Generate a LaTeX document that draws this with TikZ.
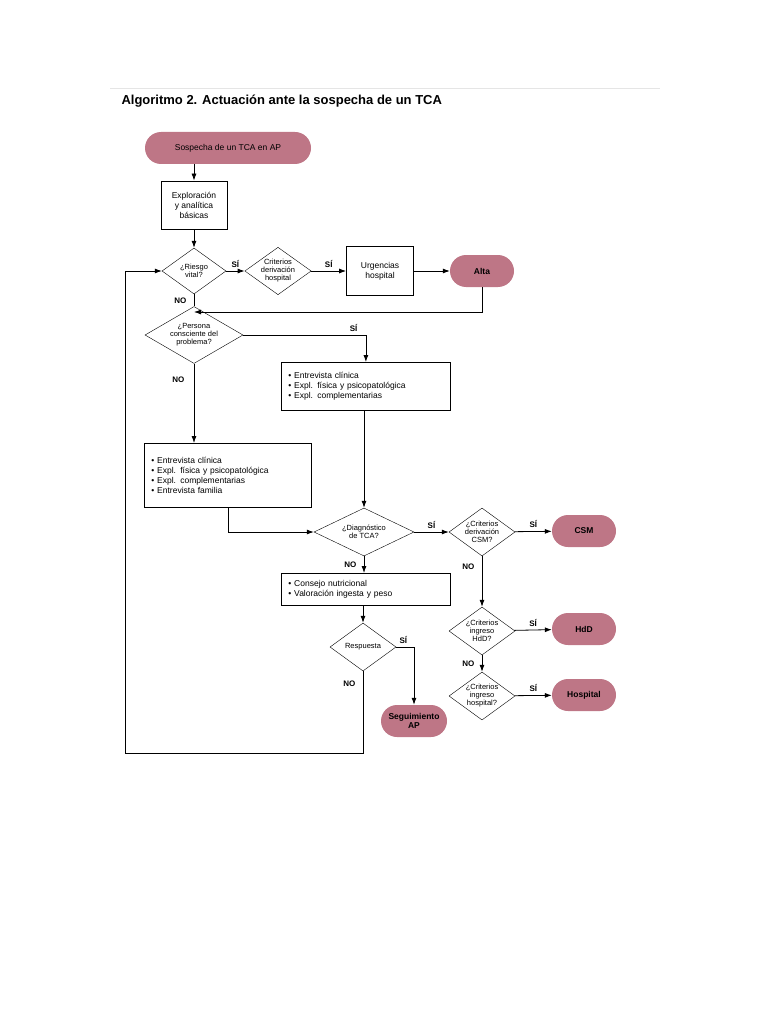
\documentclass[tikz,border=0pt]{standalone}
\usepackage{fontspec}
\setmainfont{Liberation Sans}
\usetikzlibrary{shapes.geometric,arrows.meta}
\definecolor{malva}{RGB}{190,118,134}
\tikzset{
  term/.style={rounded rectangle,fill=malva,minimum height=32pt,font=\fontsize{8.5}{9.5}\selectfont\bfseries,align=center,inner sep=1pt},
  caja/.style={draw,thick,font=\fontsize{8.5}{10}\selectfont,align=left},
  rombo/.style={draw,diamond,aspect=1.4,inner sep=0pt,font=\fontsize{7.5}{8}\selectfont,align=center},
  flecha/.style={thick,-{Latex[length=7pt,width=5pt]}},
  etq/.style={font=\fontsize{8}{9}\selectfont\bfseries}
}
\usetikzlibrary{shapes.misc}
\begin{document}
\begin{tikzpicture}[x=1pt,y=-1pt]
        \useasboundingbox (0,0) rectangle (768,1024);
        \draw[black!10,thick] (110,88) -- (660,88);
        \node[anchor=west,font=\fontsize{13}{15}\selectfont\bfseries] (T) at (118,101) {Algoritmo 2. Actuación ante la sospecha de un TCA};
        \node[term,minimum width=168pt,font=\fontsize{8.5}{9.5}\selectfont] (S) at (228,148) {Sospecha de un TCA en AP};
        \node[caja,minimum width=66pt,minimum height=48pt,align=center] (E) at (194,205) {Exploración\\y analítica\\básicas};
        \node[rombo,minimum width=64pt,minimum height=46pt] (R) at (194,271) {¿Riesgo\\vital?};
        \node[rombo,minimum width=64pt,minimum height=46pt] (CH) at (278,271) {Criterios\\derivación\\hospital};
        \node[caja,minimum width=67pt,minimum height=49pt,align=center] (U) at (380,271) {Urgencias\\hospital};
        \node[term,minimum width=66pt] (A) at (482,271) {Alta};
        \node[rombo,minimum width=98pt,minimum height=46pt] (P) at (194,335) {¿Persona\\consciente del\\problema?};
        \node[caja,minimum width=169pt,minimum height=48pt,anchor=north west,text width=155pt] (B2) at (281,362) {• Entrevista clínica\\• Expl. física y psicopatológica\\• Expl. complementarias};
        \node[caja,minimum width=167pt,minimum height=64pt,anchor=north west,text width=153pt] (B3) at (144,443) {• Entrevista clínica\\• Expl. física y psicopatológica\\• Expl. complementarias\\• Entrevista familia};
        \node[rombo,minimum width=100pt,minimum height=48pt] (D) at (364,532) {¿Diagnóstico\\de TCA?};
        \node[rombo,minimum width=66pt,minimum height=48pt] (CC) at (482,532) {¿Criterios\\derivación\\CSM?};
        \node[term,minimum width=66pt] (CSM) at (584,531) {CSM};
        \node[rombo,minimum width=66pt,minimum height=48pt] (CD) at (482,631) {¿Criterios\\ingreso\\HdD?};
        \node[term,minimum width=66pt] (HDD) at (584,629) {HdD};
        \node[rombo,minimum width=66pt,minimum height=48pt] (CP) at (482,696) {¿Criterios\\ingreso\\hospital?};
        \node[term,minimum width=66pt] (HOS) at (584,695) {Hospital};
        \node[caja,minimum width=169pt,minimum height=32pt,anchor=north west,text width=155pt] (B4) at (281,573) {• Consejo nutricional\\• Valoración ingesta y peso};
        \node[rombo,minimum width=66pt,minimum height=48pt] (RE) at (363,647) {Respuesta};
        \node[term,minimum width=68pt,font=\fontsize{8.5}{8.5}\selectfont\bfseries] (SE) at (414,721) {Seguimiento\\AP};
        \coordinate (V) at (194,312);
        % conectores
        \draw[flecha] (S.south -| E.north) -- (E);
        \draw[flecha] (E) -- (R);
        \draw[flecha] (R) -- node[etq,above]{SÍ} (CH);
        \draw[flecha] (CH) -- node[etq,above]{SÍ} (U);
        \draw[flecha] (U) -- (A);
        \draw[flecha] (A.south) |- (V);
        \draw[thick] (R) -- node[etq,left=4pt]{NO} (P);
        \draw[flecha] (P.east) -| node[etq,above,pos=0.45]{SÍ} (B2.north);
        \draw[flecha] (P.south) -- node[etq,left=6pt,pos=0.2]{NO} (P.south |- B3.north);
        \draw[flecha] (B3.south -| 228,0) |- (D.west);
        \draw[flecha] (B2.south -| D.north) -- (D);
        \draw[flecha] (D) -- node[etq,above]{SÍ} (CC);
        \draw[flecha] (CC) -- node[etq,above]{SÍ} (CSM);
        \draw[flecha] (CC) -- node[etq,left=4pt,pos=0.2]{NO} (CD);
        \draw[flecha] (CD) -- node[etq,above]{SÍ} (HDD);
        \draw[flecha] (CD) -- node[etq,left=4pt]{NO} (CP);
        \draw[flecha] (CP) -- node[etq,above]{SÍ} (HOS);
        \draw[flecha] (D.south) -- node[etq,left=4pt]{NO} (D.south |- B4.north);
        \draw[flecha] (B4.south -| RE.north) -- (RE);
        \draw[flecha] (RE.east) -| node[etq,above,pos=0.2]{SÍ} (SE.north);
        \draw[flecha] (RE.south) -- node[etq,left=4pt,pos=0.15]{NO} (363,753) -- (125,753) |- (R.west);
\end{tikzpicture}
\end{document}
